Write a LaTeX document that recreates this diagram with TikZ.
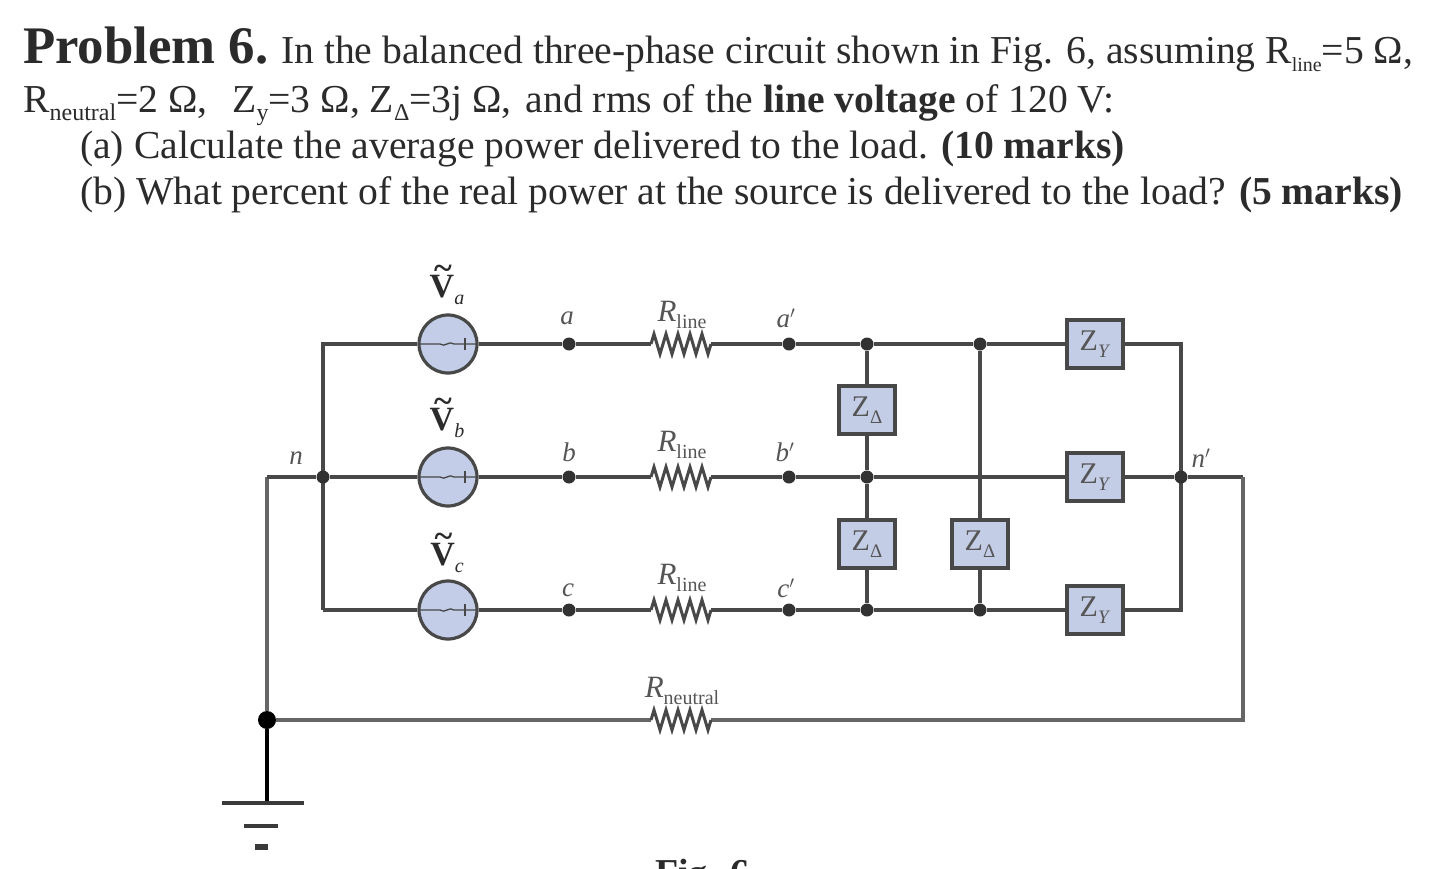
\documentclass[tikz,border=0pt]{standalone}
\usepackage{fontspec}
\setmainfont{Liberation Serif}
\usetikzlibrary{backgrounds,decorations.pathmorphing}
\definecolor{wirec}{HTML}{484848}
\definecolor{neutc}{HTML}{666666}
\definecolor{boxc}{HTML}{C4CDE6}
\definecolor{srcc}{HTML}{C3CDE8}
\definecolor{inkc}{HTML}{2B2B2B}
\definecolor{labc}{HTML}{555555}
\newcommand{\lowtxt}[2]{\raisebox{-0.22em}{\fontsize{#1}{#1}\selectfont #2}}
\newcommand{\fs}[1]{\fontsize{#1}{#1}\selectfont}
\newcommand{\tildeV}{\rlap{\hspace{0.13em}\raisebox{0.52em}{\textbf{\char`\~}}}\textbf{V}}
\tikzset{
  line1/.style={anchor=base west,inner sep=0pt,text=inkc,font=\fs{39.6}},
  wire/.style={draw=wirec,line width=3.2pt,line join=miter},
  neut/.style={draw=neutc,line width=3.4pt,line join=miter},
  res/.style={draw=wirec,line width=3pt,decorate,decoration={zigzag,segment length=12pt,amplitude=10pt}},
  dotn/.style={circle,fill=wirec!70!black,minimum size=13pt,inner sep=0pt},
  imp/.style={rectangle,draw=wirec,line width=3.2pt,fill=boxc,minimum width=56pt,minimum height=48pt,inner sep=0pt,text=labc,font=\fs{30}},
  src/.style={circle,draw=wirec,line width=3.2pt,fill=srcc,minimum size=58pt,inner sep=0pt},
  srcmark/.style={draw=wirec,line width=1.3pt},
  lab/.style={inner sep=0pt,text=labc,font=\fs{27}\itshape},
  vlab/.style={inner sep=0pt,text=inkc,font=\fs{34}},
  rlab/.style={inner sep=0pt,text=labc,font=\fs{31}}
}
\begin{document}
\begin{tikzpicture}[x=1pt,y=-1pt]
\useasboundingbox (0,0) rectangle (1434,868);
\clip (0,0) rectangle (1434,868);
% Text
\node[line1,font=\fs{52.8}\bfseries] (t0) at (23,63) {Problem 6.};
\node[line1] (t1) at (281,63) {In the balanced three-phase circuit shown in Fig. 6, assuming R\lowtxt{20}{line}=5 Ω,};
\node[line1] (t2) at (23,112) {R\lowtxt{24}{neutral}=2 Ω,\hspace{5pt}\ \ Z\lowtxt{24}{y}=3 Ω, Z\lowtxt{24}{Δ}=3j Ω,\hspace{4pt} and rms of the \textbf{line voltage} of 120 V:};
\node[line1] (t3) at (80,158) {(a) Calculate the average power delivered to the load. \textbf{(10 marks)}};
\node[line1] (t4) at (80,204) {(b) What percent of the real power at the source is delivered to the load? \textbf{(5 marks)}};
\node[line1,font=\fs{38}\bfseries] (fig) at (655,885) {Fig. 6};
% Sources
\node[src] (sa) at (448,344) {};
\node[src] (sb) at (448,477) {};
\node[src] (sc) at (448,610) {};
% Terminals
\foreach \nm/\px/\py in {a/569/344,b/569/477,c/569/610,ap/789/344,bp/789/477,cp/789/610,
  ja/867/344,jb/867/477,jc/867/610,ka/980/344,kc/980/610,n/323/477,np/1181/477}
  \node[dotn] (\nm) at (\px,\py) {};
\node[dotn,fill=black,minimum size=18pt] (gnd) at (267,720) {};
% Impedances
\node[imp] (z1) at (867,410) {Z\lowtxt{19}{Δ}};
\node[imp] (z2) at (867,544) {Z\lowtxt{19}{Δ}};
\node[imp] (z3) at (980,544) {Z\lowtxt{19}{Δ}};
\node[imp] (ya) at (1095,344) {Z\lowtxt{19}{\textit{Y}}};
\node[imp] (yb) at (1095,477) {Z\lowtxt{19}{\textit{Y}}};
\node[imp] (yc) at (1095,610) {Z\lowtxt{19}{\textit{Y}}};
% Helper points
\coordinate (tl) at (323,344);
\coordinate (bl) at (323,610);
\coordinate (tr) at (1181,344);
\coordinate (br) at (1181,610);
\coordinate (nl) at (267,477);
\coordinate (outr) at (1243,477);
\coordinate (outb) at (1243,720);
\coordinate (kb) at (980,477);
\coordinate (ra1) at (651,344); \coordinate (ra2) at (711,344);
\coordinate (rb1) at (651,477); \coordinate (rb2) at (711,477);
\coordinate (rc1) at (651,610); \coordinate (rc2) at (711,610);
\coordinate (rn1) at (651,720); \coordinate (rn2) at (711,720);
\coordinate (g1) at (267,803);
% Wires
\begin{scope}[on background layer]
  \draw[wire] (bl) -- (tl) -- (sa) -- (a) -- (ra1);
  \draw[wire] (ra2) -- (ap) -- (ja) -- (ka) -- (ya) -- (tr) -- (br) -- (yc) -- (kc) -- (jc) -- (cp) -- (rc2);
  \draw[wire] (rc1) -- (c) -- (sc) -- (bl);
  \draw[neut] (gnd) -- (nl);
  \draw[wire] (nl) -- (n) -- (sb) -- (b) -- (rb1);
  \draw[wire] (rb2) -- (bp) -- (jb) -- (kb) -- (yb) -- (np) -- (outr);
  \draw[neut] (outr) -- (outb) -- (rn2);
  \draw[neut] (rn1) -- (gnd);
  \draw[res] (ra1) -- (ra2);
  \draw[res] (rb1) -- (rb2);
  \draw[res] (rc1) -- (rc2);
  \draw[res] (rn1) -- (rn2);
  \draw[wire] (ja) -- (z1) -- (jb) -- (z2) -- (jc);
  \draw[wire] (ka) -- (z3) -- (kc);
\end{scope}
% Source marks
\foreach \s in {sa,sb,sc}{
  \draw[srcmark] ([xshift=-28pt]\s.center) -- ([xshift=-8pt]\s.center)
    .. controls ([xshift=-3pt,yshift=-4pt]\s.center) and ([xshift=1pt,yshift=4pt]\s.center) .. ([xshift=6pt]\s.center)
    -- ([xshift=28pt]\s.center);
  \draw[srcmark,line width=1.8pt] ([xshift=17pt,yshift=-6pt]\s.center) -- ([xshift=17pt,yshift=6pt]\s.center);
}
% Ground
\draw[draw=black,line width=4pt] (gnd) -- (g1);
\coordinate (g1l) at (222,803); \coordinate (g1r) at (304,803);
\coordinate (g2l) at (244,826); \coordinate (g2r) at (278,826);
\coordinate (g3l) at (255,847); \coordinate (g3r) at (268,847);
\draw[draw=wirec!80!black,line width=4pt] (g1l) -- (g1r);
\draw[draw=wirec!80!black,line width=4.5pt] (g2l) -- (g2r);
\draw[draw=wirec!80!black,line width=6pt] (g3l) -- (g3r);
% Labels
\node[vlab] (va) at (447,285) {\tildeV\raisebox{-0.2em}{\fs{20}\textit{a}}};
\node[vlab] (vb) at (447,418) {\tildeV\raisebox{-0.2em}{\fs{20}\textit{b}}};
\node[vlab] (vc) at (447,553) {\tildeV\raisebox{-0.2em}{\fs{20}\textit{c}}};
\node[lab] (la) at (567,318) {a};
\node[lab] (lb) at (569,452) {b};
\node[lab] (lc) at (568,590) {c};
\node[lab] (lap) at (786,318) {a$'$};
\node[lab] (lbp) at (785,452) {b$'$};
\node[lab] (lcp) at (786,588) {c$'$};
\node[lab] (ln) at (296,458) {n};
\node[lab] (lnp) at (1201,458) {n$'$};
\node[rlab] (r1) at (682,315) {\textit{R}\lowtxt{20}{line}};
\node[rlab] (r2) at (682,445) {\textit{R}\lowtxt{20}{line}};
\node[rlab] (r3) at (682,578) {\textit{R}\lowtxt{20}{line}};
\node[rlab] (r4) at (682,691) {\textit{R}\lowtxt{20}{neutral}};
\end{tikzpicture}
\end{document}
